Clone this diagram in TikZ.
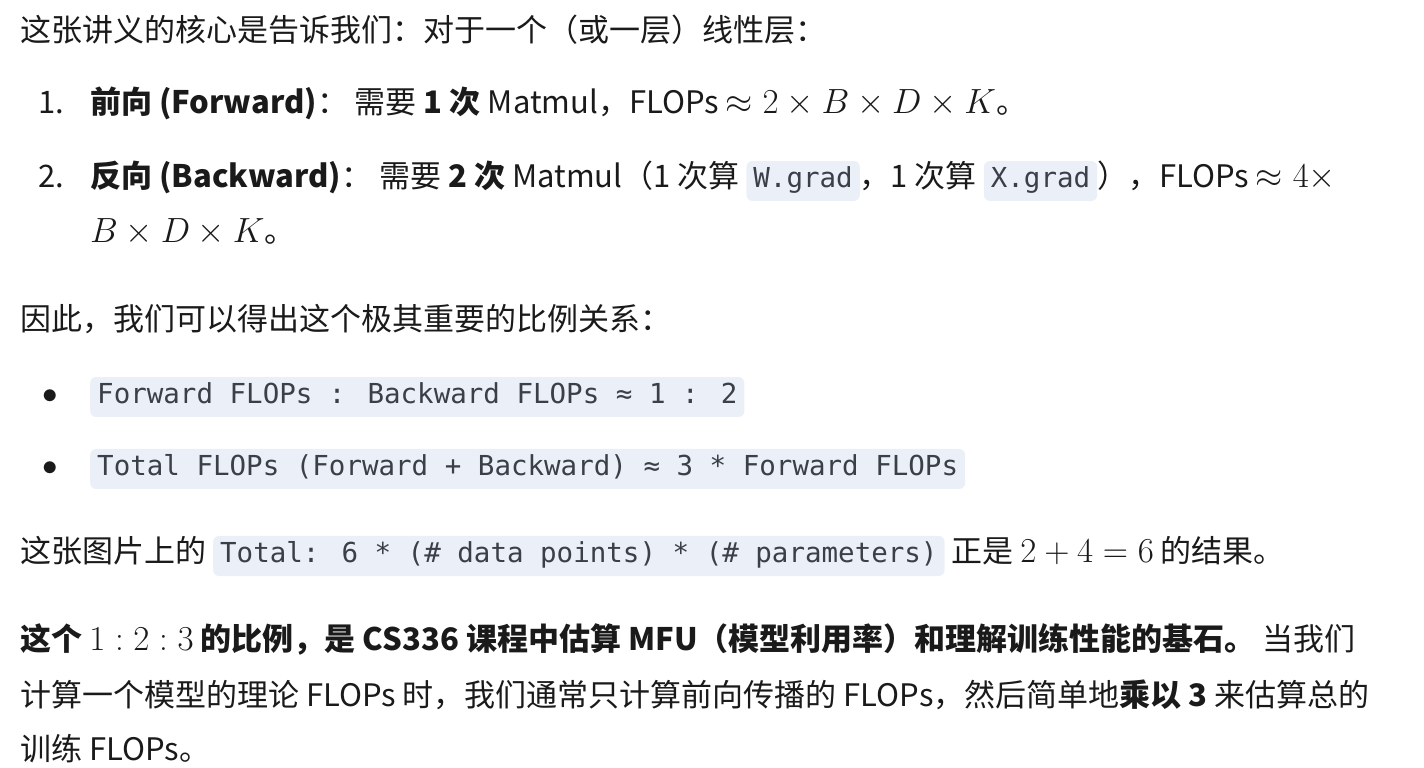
\RequirePackage{fix-cm}
\documentclass[tikz,border=0pt]{standalone}
\usepackage{fontspec}
\setmainfont{Noto Sans CJK SC}
\newfontfamily\codefont{DejaVu Sans Mono}
\definecolor{codebg}{HTML}{EBEFF7}
\definecolor{codefg}{HTML}{3A3F48}
\definecolor{txt}{HTML}{1A1A1A}
\tikzset{
  codebox/.style={fill=codebg,rounded corners=6pt,inner xsep=7pt,inner ysep=5pt,text=codefg,font=\codefont\fontsize{27.5}{30}\selectfont},
  line/.style={anchor=base west,inner sep=0pt,text=txt,font=\fontsize{31}{34}\selectfont}
}
\newcommand{\icode}[1]{\tikz[baseline=(c.base)]\node[codebox](c){\strut #1};}
\newcommand{\mm}[1]{{\fontsize{35}{38}\selectfont$#1$}}
\begin{document}
\begin{tikzpicture}
\useasboundingbox (0pt,0pt) rectangle (1424pt,-768pt);
\node[line] (l1) at (20pt,-42pt) {这张讲义的核心是告诉我们：对于一个（或一层）线性层：};
\node[line] (n1) at (38pt,-113pt) {1.};
\node[line] (i1) at (90pt,-113pt) {\textbf{前向 (Forward)}：\ 需要 \textbf{1 次} Matmul，FLOPs \mm{\approx 2\times B\times D\times K}。};
\node[line] (n2) at (38pt,-187pt) {2.};
\node[line] (i2) at (90pt,-187pt) {\textbf{反向 (Backward)}：\ 需要 \textbf{2 次} Matmul（1 次算 \icode{W.grad}，1 次算 \icode{X.grad}），FLOPs \mm{\approx 4\times}};
\node[line] (i2b) at (90pt,-242pt) {\mm{B\times D\times K}。};
\node[line] (l3) at (20pt,-330pt) {因此，我们可以得出这个极其重要的比例关系：};
\node[line] (b1) at (42pt,-403pt) {$\bullet$};
\node[line] (c1) at (90pt,-403pt) {\icode{Forward FLOPs : Backward FLOPs ≈ 1 : 2}};
\node[line] (b2) at (42pt,-475pt) {$\bullet$};
\node[line] (c2) at (90pt,-475pt) {\icode{Total FLOPs (Forward + Backward) ≈ 3 * Forward FLOPs}};
\node[line] (l4) at (20pt,-562pt) {这张图片上的 \icode{Total: 6 * (\# data points) * (\# parameters)} 正是 \mm{2+4=6} 的结果。};
\node[line] (p1) at (20pt,-650pt) {\textbf{这个 \mm{1:2:3} 的比例，是 CS336 课程中估算 MFU（模型利用率）和理解训练性能的基石。} 当我们};
\node[line] (p2) at (20pt,-706pt) {计算一个模型的理论 FLOPs 时，我们通常只计算前向传播的 FLOPs，然后简单地\textbf{乘以 3} 来估算总的};
\node[line] (p3) at (20pt,-760pt) {训练 FLOPs。};
\end{tikzpicture}
\end{document}
